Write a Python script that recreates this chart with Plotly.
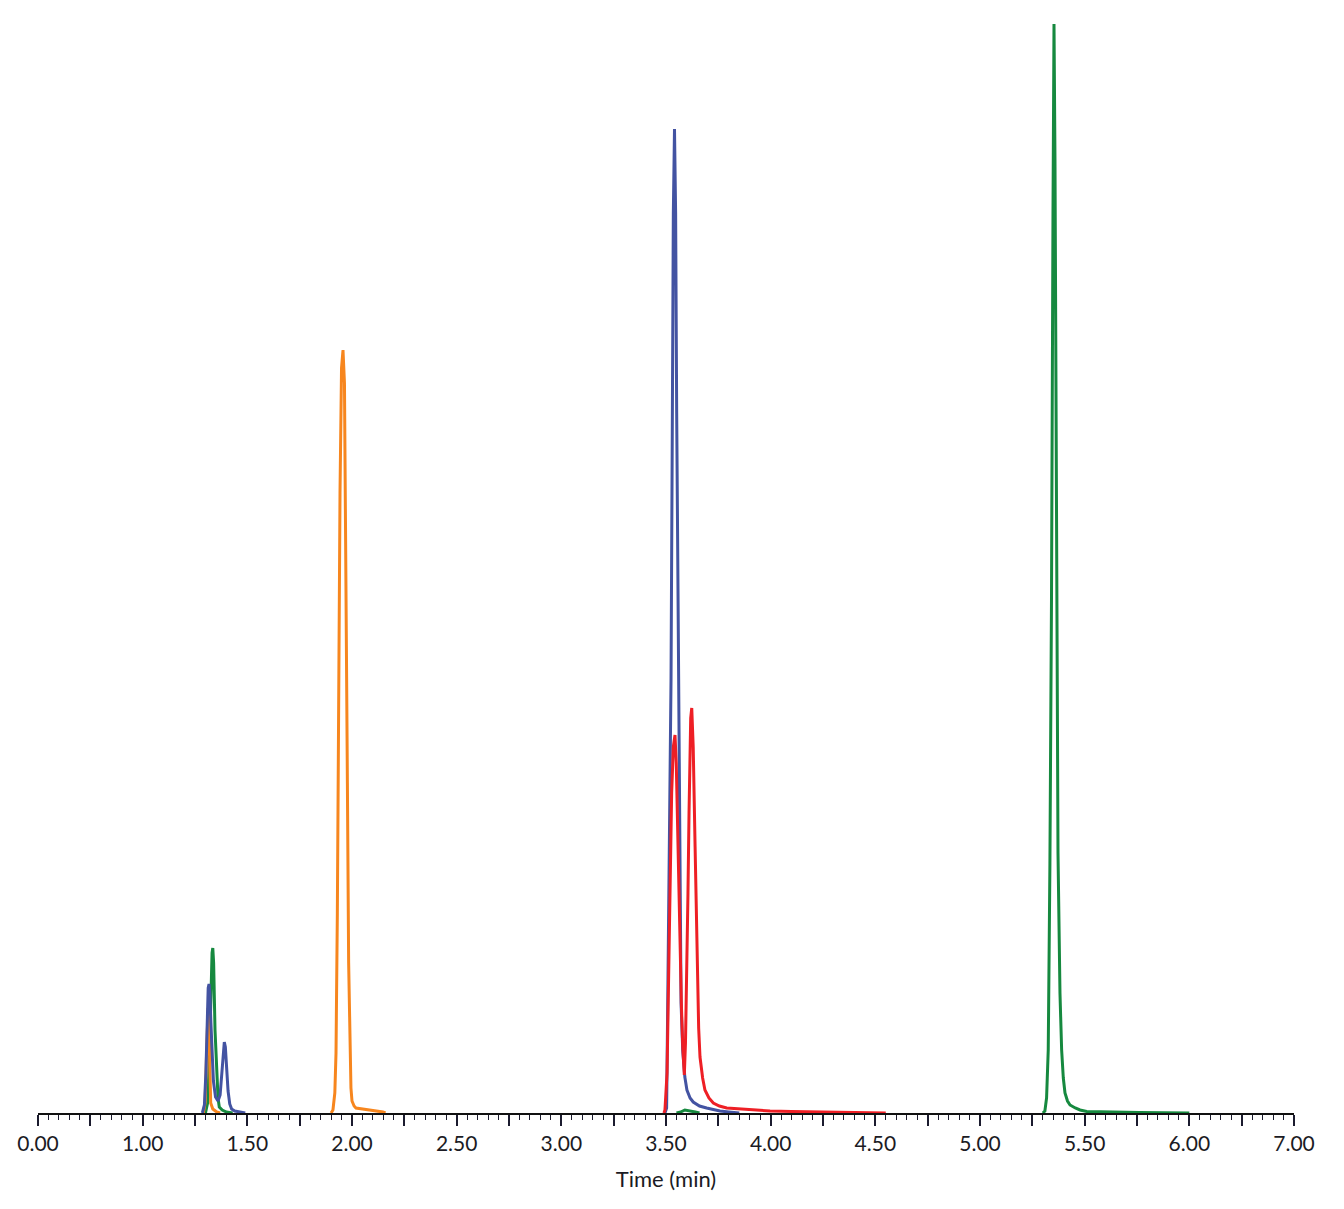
import plotly.graph_objects as go

# ---- axis labels (as printed on the reference) ----
tick_positions = [0.5, 1.0, 1.5, 2.0, 2.5, 3.0, 3.5, 4.0, 4.5, 5.0, 5.5, 6.0, 6.5]
tick_labels = ["0.00", "1.00", "1.50", "2.00", "2.50", "3.00", "3.50",
               "4.00", "4.50", "5.00", "5.50", "6.00", "7.00"]
x_title = "Time (min)"

# ---- traces (time in min, signal in arbitrary units); None separates segments ----
green_t = [1.300, 1.310, 1.318, 1.325, 1.3315, 1.335, 1.339, 1.3456, 1.3537, 1.360, 1.366, 1.380, 1.400, 1.430,
           None,
           3.550, 3.570, 3.590, 3.610, 3.640, 3.660,
           None,
           5.300, 5.310, 5.318, 5.326, 5.334, 5.3415, 5.3487, 5.3535, 5.3583, 5.3655, 5.3726, 5.382, 5.390,
           5.398, 5.406, 5.418, 5.430, 5.455, 5.478, 5.510, 5.600, 5.760, 6.000]
green_y = [0, 10, 50, 116, 160, 165, 150, 83, 33, 15, 6, 3, 1, 0,
           None,
           0, 1, 3, 2.5, 1, 0,
           None,
           0, 2, 15, 63, 250, 513, 900, 1089, 950, 560, 260, 120, 63,
           35, 20, 12, 8, 5, 3, 1.5, 1, 0.5, 0]

orange_t = [1.290, 1.298, 1.304, 1.309, 1.3125, 1.316, 1.320, 1.325, 1.335, 1.354, 1.370,
            None,
            1.900, 1.909, 1.918, 1.9236, 1.930, 1.936, 1.9427, 1.950, 1.957, 1.964, 1.9714, 1.978,
            1.984, 1.990, 1.995, 2.000, 2.010, 2.019, 2.048, 2.096, 2.148, 2.160]
orange_y = [0, 10, 50, 95, 105, 90, 45, 10, 4, 1, 0,
            None,
            0, 3, 20, 60, 200, 420, 620, 745, 763, 730, 560, 330,
            150, 60, 25, 12, 7, 5, 4, 3, 1, 0]

blue_t = [1.285, 1.295, 1.302, 1.308, 1.313, 1.317, 1.321, 1.326, 1.331, 1.338, 1.348, 1.360, 1.370,
          1.378, 1.384, 1.390, 1.395, 1.401, 1.408, 1.416, 1.425, 1.440, 1.465, 1.490,
          None,
          3.495, 3.503, 3.511, 3.518, 3.524, 3.530, 3.535, 3.5406, 3.546, 3.551, 3.559, 3.565, 3.572,
          3.580, 3.590, 3.600, 3.615, 3.630, 3.660, 3.694, 3.730, 3.758, 3.800, 3.850]
blue_y = [0, 8, 40, 95, 125, 129, 120, 90, 58, 32, 16, 12, 18,
          40, 62, 71, 66, 45, 22, 9, 4, 2, 1, 0,
          None,
          0, 5, 166, 300, 433, 680, 900, 984, 900, 700, 433, 230, 110,
          62, 36, 23, 15, 11, 7, 5, 3, 2, 1, 0]

red_t = [3.490, 3.495, 3.505, 3.512, 3.519, 3.527, 3.535, 3.543, 3.549, 3.554, 3.560, 3.567, 3.574,
         3.580, 3.5875, 3.593, 3.599, 3.605, 3.610, 3.618, 3.623, 3.630, 3.639, 3.650, 3.656, 3.6624,
         3.675, 3.686, 3.705, 3.726, 3.755, 3.790, 3.850, 3.901, 3.997, 4.100, 4.300, 4.500, 4.550]
red_y = [0, 3, 40, 120, 233, 320, 366, 378, 350, 300, 230, 166, 105,
         66, 38, 70, 133, 220, 300, 395, 405, 366, 266, 133, 85, 56,
         35, 23, 15, 10, 7, 5, 4, 3.3, 2, 1.5, 1, 0.5, 0]

series = [
    ("green", green_t, green_y, "#16893F"),
    ("orange", orange_t, orange_y, "#F7861E"),
    ("blue", blue_t, blue_y, "#4353A2"),
    ("red", red_t, red_y, "#EE1F25"),
]

fig = go.Figure()
for name, t, y, c in series:
    fig.add_trace(go.Scatter(x=t, y=y, mode="lines", name=name,
                             line=dict(color=c, width=3), connectgaps=False,
                             hoverinfo="skip"))

# major tick marks every quarter interval, labels only on half intervals
major_vals = [0.5 + 0.25 * i for i in range(25)]
major_text = []
for v in major_vals:
    if v in tick_positions:
        major_text.append(tick_labels[tick_positions.index(v)])
    else:
        major_text.append("")

fig.update_layout(
    width=1344, height=1209,
    paper_bgcolor="white", plot_bgcolor="white",
    margin=dict(l=30, r=58, t=5, b=104),
    showlegend=False,
    font=dict(family="Lato, Noto Sans, sans-serif", color="#1b1b24"),
)
fig.update_xaxes(
    range=[0.5, 6.5], showgrid=False, zeroline=False, automargin=False,
    showline=True, linecolor="#111111", linewidth=2,
    ticks="outside", ticklen=11, tickwidth=1.6, tickcolor="#1b1b2e",
    tickvals=major_vals, ticktext=major_text,
    tickfont=dict(size=21, family="Lato, sans-serif", color="#1b1b24"),
    minor=dict(dtick=0.05, tick0=0.5, ticks="outside", ticklen=5, tickwidth=1.4, tickcolor="#1b1b2e"),
    title=dict(text=x_title, font=dict(size=22, family="Lato, sans-serif", color="#1b1b24"), standoff=17),
)
fig.update_yaxes(range=[0, 1100], visible=False, automargin=False)

fig.write_html("out.html")
